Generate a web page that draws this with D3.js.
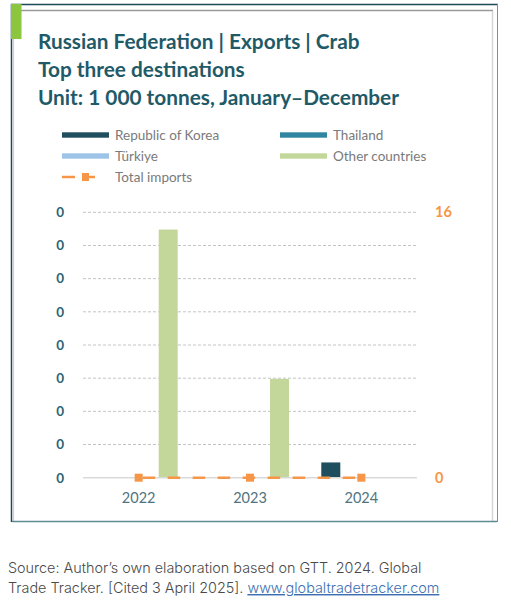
<!DOCTYPE html>
<html>
<head>
<meta charset="utf-8">
<script src="https://cdn.jsdelivr.net/npm/d3@7"></script>
<style>
  body { margin: 0; background: #fff; }
  svg { display: block; }
</style>
</head>
<body>
<div class="svg-container"></div>
<script>
// chart values
const years = ["2022", "2023", "2024"];
const seriesNames = ["Republic of Korea", "Thailand", "Türkiye", "Other countries"];
const koreaValues = [0, 0, 0.023];
const thailandValues = [0, 0, 0];
const turkiyeValues = [0, 0, 0];
const otherValues = [0.374, 0.149, 0];
const totalImports = [0, 0, 0];
const leftTicks = [0, 0.05, 0.1, 0.15, 0.2, 0.25, 0.3, 0.35, 0.4];
const rightTicks = [0, 16];

const seriesColors = ["#1f4e5f", "#2e86a0", "#9dc3e6", "#c4d79b"];
const importColor = "#f79646";
const titleColor = "#1f5a68";

const width = 511, height = 605;

let svg = d3.select(".svg-container")
  .append("svg")
  .attr("width", width)
  .attr("height", height)
  .style("font-family", "Lato, 'Open Sans', sans-serif");

// frame
let frame = svg.append("g").attr("id", "frame");
frame.append("line").attr("x1", 11).attr("x2", 498).attr("y1", 4.5).attr("y2", 4.5)
  .attr("stroke", "#1d4a57").attr("stroke-width", 1.5);
frame.append("line").attr("x1", 11.5).attr("x2", 11.5).attr("y1", 4).attr("y2", 522)
  .attr("stroke", "#1d4a57").attr("stroke-width", 1.5);
frame.append("line").attr("x1", 497.5).attr("x2", 497.5).attr("y1", 4).attr("y2", 522)
  .attr("stroke", "#8a8a8a").attr("stroke-width", 1);
frame.append("line").attr("x1", 20).attr("x2", 493).attr("y1", 10.5).attr("y2", 10.5)
  .attr("stroke", "#9a9a9a").attr("stroke-width", 1.5);
frame.append("line").attr("x1", 13.5).attr("x2", 13.5).attr("y1", 39).attr("y2", 521)
  .attr("stroke", "#d0d0d0").attr("stroke-width", 1.2);
frame.append("line").attr("x1", 492.5).attr("x2", 492.5).attr("y1", 11).attr("y2", 521)
  .attr("stroke", "#d6d6d6").attr("stroke-width", 1.5);
frame.append("line").attr("x1", 12).attr("x2", 497).attr("y1", 521.5).attr("y2", 521.5)
  .attr("stroke", "#5f8a94").attr("stroke-width", 1.5);
frame.append("rect").attr("x", 11).attr("y", 4).attr("width", 10.5).attr("height", 35)
  .attr("fill", "#8cc63f");

// titles
const titleLines = ["Russian Federation | Exports | Crab", "Top three destinations", "Unit: 1 000 tonnes, January\u2013December"];
svg.append("g").selectAll("text")
  .data(titleLines)
  .enter().append("text")
  .attr("x", 38)
  .attr("y", (d, i) => 48.5 + i * 28)
  .text(d => d)
  .attr("fill", titleColor)
  .attr("font-weight", "bold")
  .attr("font-size", "20.8px");

// legend
let legend = svg.append("g").attr("id", "legend");
const legendPos = [[62, 135], [280, 135], [62, 156], [280, 156]];
seriesNames.forEach(function(name, i) {
  let g = legend.append("g").attr("transform", "translate(" + legendPos[i][0] + "," + legendPos[i][1] + ")");
  g.append("rect").attr("x", 0).attr("y", -2.7).attr("width", 47).attr("height", 5.4)
    .attr("fill", seriesColors[i]);
  g.append("text").attr("x", 53).attr("y", 0).attr("dy", "0.35em")
    .text(name).attr("font-size", "13.5px").attr("fill", "#7a7a7a");
});
let impLeg = legend.append("g").attr("transform", "translate(62,177)");
impLeg.append("line").attr("x1", 0).attr("x2", 38).attr("y1", 0).attr("y2", 0)
  .attr("stroke", importColor).attr("stroke-width", 2.5).attr("stroke-dasharray", "13,7");
impLeg.append("rect").attr("x", 20).attr("y", -4).attr("width", 7).attr("height", 8).attr("fill", importColor);
impLeg.append("text").attr("x", 53).attr("y", 0).attr("dy", "0.35em")
  .text("Total imports").attr("font-size", "13.5px").attr("fill", "#7a7a7a");

// scales
const plotLeft = 83, plotRight = 417, plotTop = 212.3, plotBottom = 477.7;
let x0 = d3.scaleBand().domain(years).range([plotLeft, plotRight]).padding(0);
let x1 = d3.scaleBand().domain(seriesNames).range([0, x0.bandwidth()])
  .paddingInner(0).paddingOuter(0.78);
let yLeft = d3.scaleLinear().domain([0, 0.4]).range([plotBottom, plotTop]);
let yRight = d3.scaleLinear().domain([0, 16]).range([plotBottom, plotTop]);

// gridlines
let grid = svg.append("g").attr("id", "grid");
grid.selectAll("line")
  .data(leftTicks.filter(d => d > 0))
  .enter().append("line")
  .attr("x1", plotLeft).attr("x2", plotRight)
  .attr("y1", d => yLeft(d)).attr("y2", d => yLeft(d))
  .attr("stroke", "#c4c4c4").attr("stroke-width", 1)
  .attr("stroke-dasharray", "3,2");

// left axis
let gYaxis = svg.append("g").attr("transform", "translate(64,0)")
  .call(d3.axisLeft(yLeft).tickValues(leftTicks).tickFormat(d3.format(".0f")).tickSize(0).tickPadding(0));
gYaxis.select(".domain").remove();
gYaxis.selectAll("text").attr("fill", "#2f6473").attr("font-size", "13.5px")
  .attr("font-weight", "bold").style("font-family", "Lato, sans-serif");

// right axis
let gYRaxis = svg.append("g").attr("transform", "translate(435,0)")
  .call(d3.axisRight(yRight).tickValues(rightTicks).tickFormat(d3.format("d")).tickSize(0).tickPadding(0));
gYRaxis.select(".domain").remove();
gYRaxis.selectAll("text").attr("fill", importColor).attr("font-size", "14.5px")
  .attr("font-weight", "bold").style("font-family", "Lato, sans-serif");

// bars
const table = years.map((year, i) => ({
  year: year,
  values: [koreaValues[i], thailandValues[i], turkiyeValues[i], otherValues[i]]
}));
let gBars = svg.append("g").attr("id", "bars");
gBars.selectAll("g")
  .data(table)
  .enter().append("g")
  .attr("transform", d => "translate(" + x0(d.year) + ",0)")
  .selectAll("rect")
  .data(d => d.values.map((v, j) => ({ name: seriesNames[j], value: v, color: seriesColors[j] })))
  .enter().append("rect")
  .attr("x", d => x1(d.name))
  .attr("y", d => yLeft(d.value))
  .attr("width", x1.bandwidth() - 1)
  .attr("height", d => plotBottom - yLeft(d.value))
  .attr("fill", d => d.color);

// baseline
svg.append("line").attr("x1", plotLeft).attr("x2", plotRight)
  .attr("y1", plotBottom).attr("y2", plotBottom)
  .attr("stroke", "#d9d9d9").attr("stroke-width", 1.5);

// x axis labels
let gXaxis = svg.append("g").attr("transform", "translate(0," + plotBottom + ")")
  .call(d3.axisBottom(x0).tickSize(0).tickPadding(15));
gXaxis.select(".domain").remove();
gXaxis.selectAll("text").attr("fill", "#4f7480").attr("font-size", "14.5px")
  .style("font-family", "Lato, sans-serif");

// total imports line
const impData = years.map((y, i) => ({ year: y, value: totalImports[i] }));
let impLine = d3.line()
  .x(d => x0(d.year) + x0.bandwidth() / 2)
  .y(d => yRight(d.value));
svg.append("path").datum(impData)
  .attr("d", impLine)
  .attr("fill", "none")
  .attr("stroke", importColor)
  .attr("stroke-width", 2.5)
  .attr("stroke-dasharray", "12.5,12.5")
  .attr("stroke-dashoffset", -4);
svg.append("g").selectAll("rect")
  .data(impData)
  .enter().append("rect")
  .attr("x", d => x0(d.year) + x0.bandwidth() / 2 - 4)
  .attr("y", d => yRight(d.value) - 4)
  .attr("width", 8).attr("height", 8)
  .attr("fill", importColor);

// source note
let note = svg.append("text")
  .attr("x", 8).attr("y", 573)
  .attr("font-size", "14.4px")
  .attr("fill", "#4a4a4a")
  .style("font-family", "Inter, Roboto, sans-serif")
  .style("font-weight", 300)
  .text("Source: Author\u2019s own elaboration based on GTT. 2024. Global");
let note2 = svg.append("text")
  .attr("x", 8).attr("y", 593)
  .attr("font-size", "14.4px")
  .attr("fill", "#4a4a4a")
  .style("font-family", "Inter, Roboto, sans-serif")
  .style("font-weight", 300);
note2.append("tspan").text("Trade Tracker. [Cited 3 April 2025]. ");
note2.append("tspan").text("www.globaltradetracker.com")
  .attr("fill", "#3d6fb0")
  .style("text-decoration", "underline");
</script>
</body>
</html>
